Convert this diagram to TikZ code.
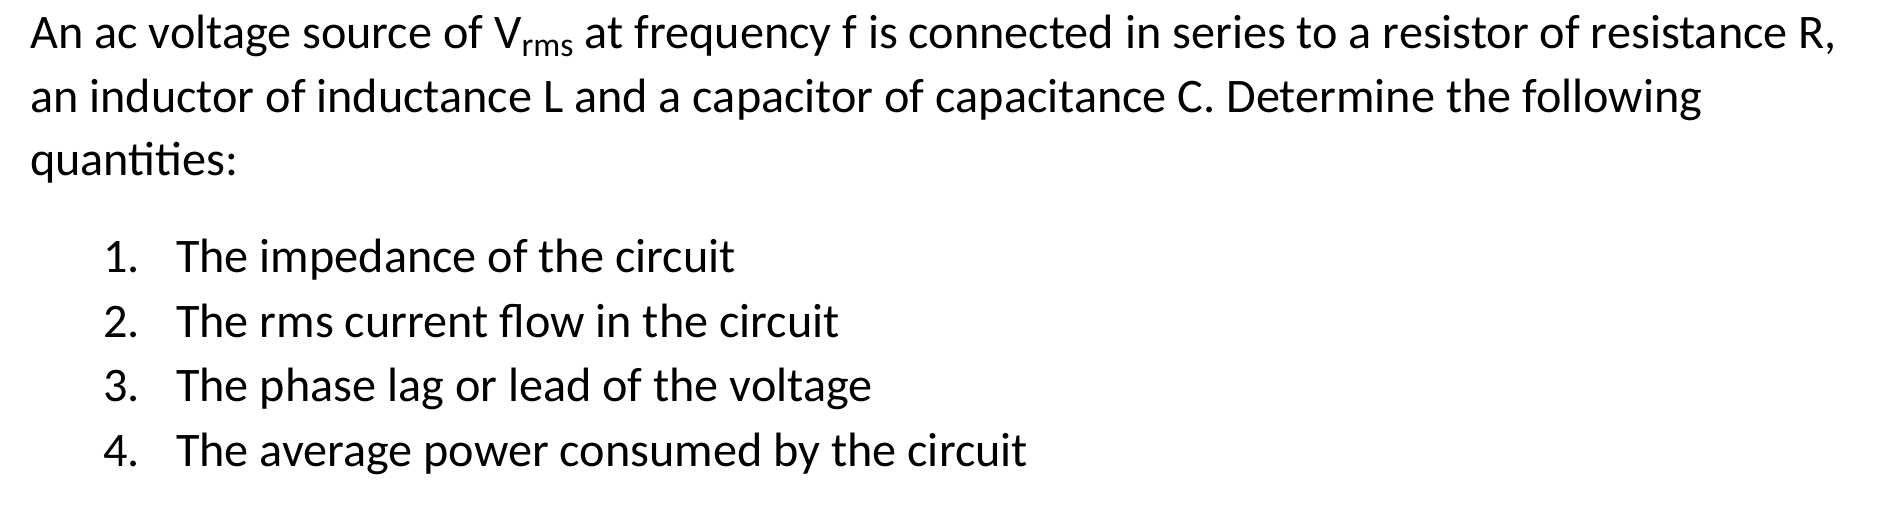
\documentclass[tikz,border=0pt]{standalone}
\usepackage{fontspec}
\setmainfont{Carlito}
\begin{document}
\begin{tikzpicture}[x=1pt,y=1pt,txt/.style={anchor=base west,inner sep=0pt,font=\fontsize{48.2}{56}\selectfont}]
\useasboundingbox (0,0) rectangle (1884,508);
\node[txt] (l1) at (30,459) {An ac voltage source of V\textsubscript{rms} at frequency f is connected in series to a resistor of resistance R,};
\node[txt] (l2) at (30,395) {an inductor of inductance L and a capacitor of capacitance C. Determine the following};
\node[txt] (l3) at (30,332) {quantities:};
\node[txt] (n1) at (103,235) {1.};
\node[txt] (t1) at (176,235) {The impedance of the circuit};
\node[txt] (n2) at (103,170) {2.};
\node[txt] (t2) at (176,170) {The rms current flow in the circuit};
\node[txt] (n3) at (103,106) {3.};
\node[txt] (t3) at (176,106) {The phase lag or lead of the voltage};
\node[txt] (n4) at (103,41) {4.};
\node[txt] (t4) at (176,41) {The average power consumed by the circuit};
\end{tikzpicture}
\end{document}
